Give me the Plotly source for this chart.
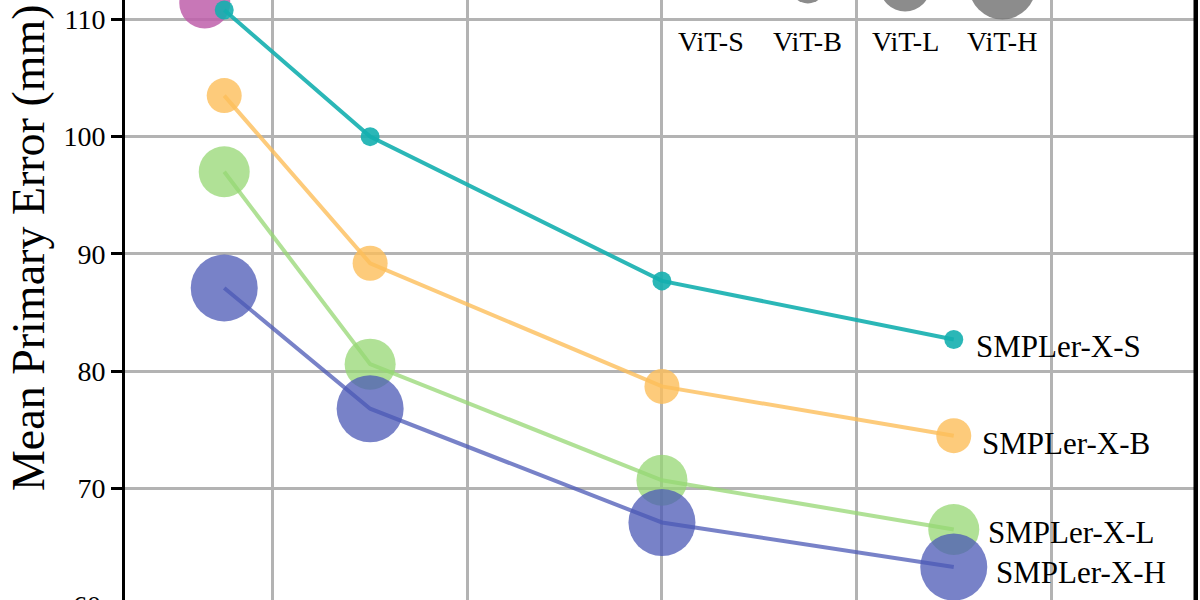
import plotly.graph_objects as go

# Training data size (M instances)
data_size = [0.75, 1.5, 3.0, 4.5]
models = ["SMPLer-X-S", "SMPLer-X-B", "SMPLer-X-L", "SMPLer-X-H"]
mpe_S = [110.8, 100.0, 87.7, 82.7]
mpe_B = [103.5, 89.2, 78.7, 74.5]
mpe_L = [97.0, 80.6, 70.7, 66.5]
mpe_H = [87.1, 76.8, 67.1, 63.3]
series = [mpe_S, mpe_B, mpe_L, mpe_H]

other_x = [0.65]
other_y = [111.4]

backbones = ["ViT-S", "ViT-B", "ViT-L", "ViT-H"]
legend_x = [3.25, 3.75, 4.25, 4.75]
legend_marker_y = [112.85, 112.85, 112.85, 112.85]
legend_text_y = [108.15, 108.15, 108.15, 108.15]
y_ticks = [60, 70, 80, 90, 100, 110]

X_RANGE = [0.24, 5.74]
Y_RANGE = [60.49, 111.65]

sizes = [19, 35, 51, 67]
marker_colors = ["rgba(20,175,175,0.9)", "rgba(253,190,90,0.8)",
                 "rgba(150,215,115,0.75)", "rgba(75,88,182,0.75)"]
line_colors = ["rgba(20,175,175,0.9)", "rgba(253,190,90,0.8)",
               "rgba(150,215,115,0.75)", "rgba(75,88,182,0.75)"]
label_shift = [20, 26, 32, 40]
label_dy = [-7, -8, -3, -5]

FONT = "Liberation Serif"

fig = go.Figure()

fig.add_trace(go.Scatter(
    x=other_x, y=other_y, mode="markers",
    marker=dict(size=51, color="rgba(190,95,170,0.85)", line=dict(width=0)),
    cliponaxis=False, showlegend=False, hoverinfo="skip"))

for name, ys, sz, mc, lc in zip(models, series, sizes, marker_colors, line_colors):
    fig.add_trace(go.Scatter(
        x=data_size, y=ys, mode="lines",
        line=dict(color=lc, width=4), showlegend=False, cliponaxis=False))
    fig.add_trace(go.Scatter(
        x=data_size, y=ys, mode="markers",
        marker=dict(size=sz, color=mc, line=dict(width=0)),
        showlegend=False, cliponaxis=False, name=name))

for name, ys, dx, dy in zip(models, series, label_shift, label_dy):
    fig.add_annotation(x=data_size[-1], y=ys[-1], text=name, showarrow=False,
                       xanchor="left", yanchor="middle", xshift=dx, yshift=dy,
                       font=dict(family=FONT, size=31, color="black"))

# size legend (circles sit above the visible area; drawn as paper shapes)
def to_paper(v, rng):
    return (v - rng[0]) / (rng[1] - rng[0])

for bx, by, sz in zip(legend_x, legend_marker_y, sizes):
    r = sz / 2
    fig.add_shape(type="circle", xref="paper", yref="paper",
                  xsizemode="pixel", ysizemode="pixel",
                  xanchor=to_paper(bx, X_RANGE), yanchor=to_paper(by, Y_RANGE),
                  x0=-r, x1=r, y0=-r, y1=r,
                  fillcolor="rgba(120,120,120,0.85)", line=dict(width=0))
for bx, by, bt in zip(legend_x, legend_text_y, backbones):
    fig.add_annotation(x=bx, y=by, text=bt, showarrow=False,
                       xanchor="center", yanchor="middle",
                       font=dict(family=FONT, size=28, color="black"))

# partially visible bottom tick label
fig.add_annotation(x=0, xref="paper", y=to_paper(60, Y_RANGE), yref="paper",
                   text="60", showarrow=False,
                   xanchor="right", yanchor="middle", xshift=-22,
                   font=dict(family=FONT, size=28, color="black"))

# y-axis title (centred on the full original axis, which is cropped here)
fig.add_annotation(x=0, xref="paper", y=90.5, text="Mean Primary Error (mm)",
                   showarrow=False, textangle=-90, xanchor="center",
                   yanchor="middle", xshift=-97,
                   font=dict(family=FONT, size=46, color="black"))

# right spine
fig.add_shape(type="line", xref="paper", yref="paper", x0=1, x1=1, y0=0, y1=1,
              line=dict(color="black", width=3))

fig.update_xaxes(range=X_RANGE, dtick=1, tick0=0,
                 showgrid=True, gridcolor="#b3b3b3", gridwidth=2.5,
                 showticklabels=False, zeroline=False, showline=False)
fig.update_yaxes(range=Y_RANGE, tickvals=y_ticks, automargin=False,
                 showgrid=True, gridcolor="#b3b3b3", gridwidth=2.5,
                 zeroline=False, showline=True, linecolor="black", linewidth=3,
                 mirror=True, ticks="outside", ticklen=11, tickwidth=2.5,
                 tickcolor="black",
                 tickfont=dict(family=FONT, size=28, color="black"))

fig.update_layout(width=1200, height=600,
                  margin=dict(l=125, r=5, t=0, b=0),
                  plot_bgcolor="white", paper_bgcolor="white",
                  showlegend=False)

fig.write_html("out.html", config={"displayModeBar": False},
               post_script="document.body.style.margin='0';document.body.style.overflow='hidden';")
